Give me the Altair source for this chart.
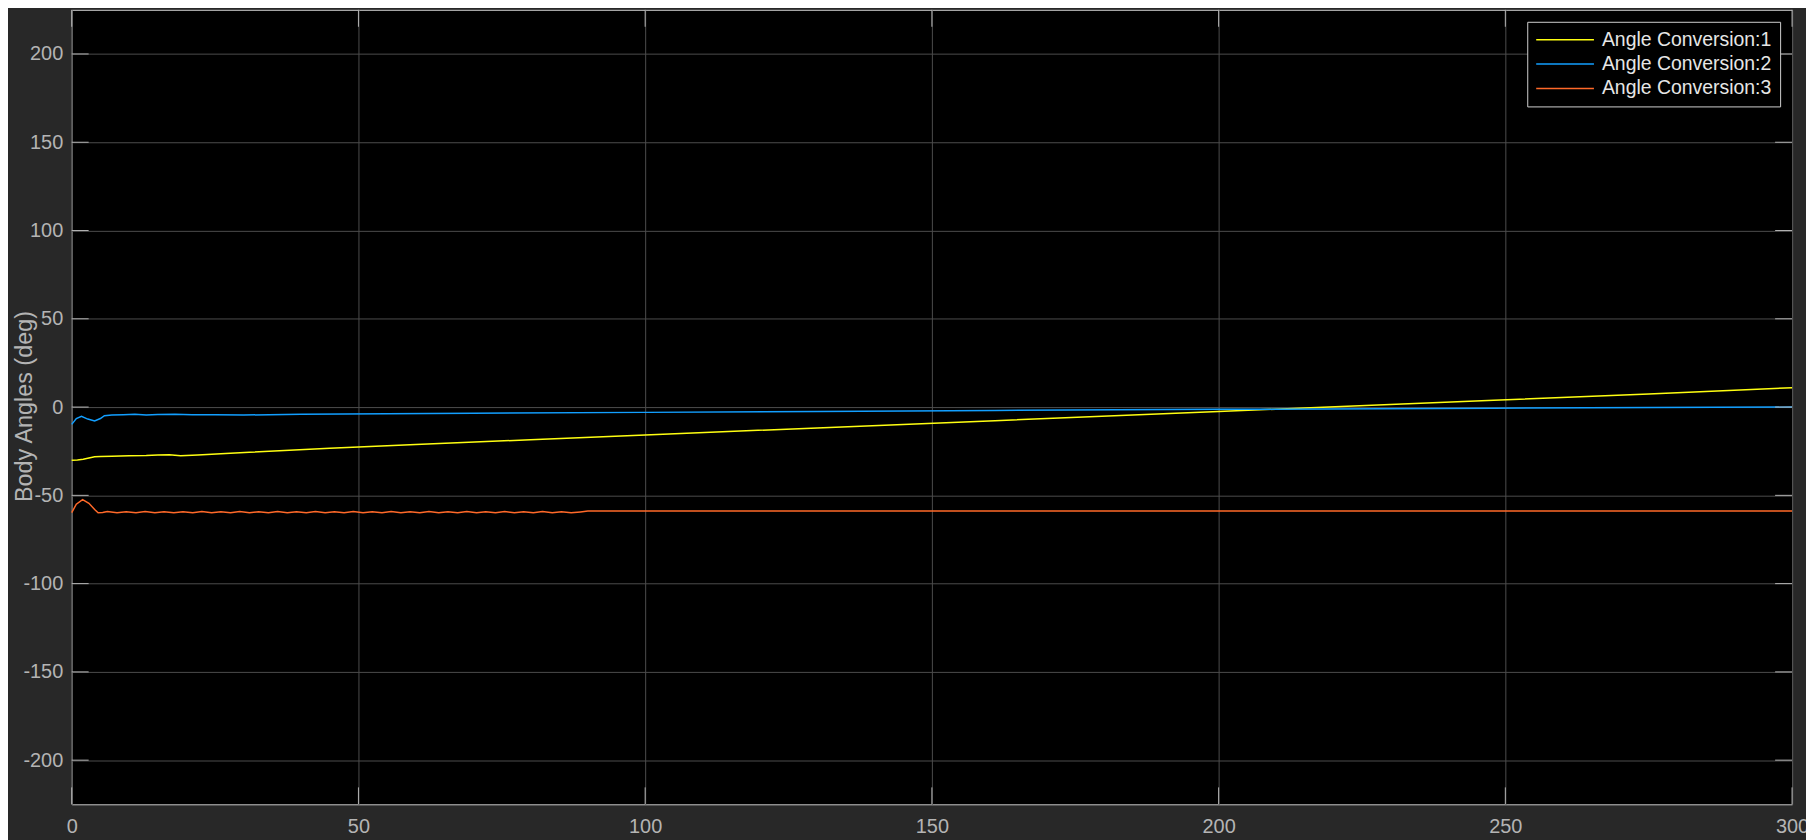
import altair as alt
import pandas as pd

# ---- data ----
SERIES = ["Angle Conversion:1", "Angle Conversion:2", "Angle Conversion:3"]
COLORS = ["#ffff11", "#129fff", "#ff6929"]

T1 = [0, 1, 2, 3, 4, 5, 7, 10, 13, 15, 17, 19, 22, 26, 31, 45, 60, 80, 100, 130, 161, 200, 215, 248, 275, 300]
V1 = [-30.1, -30.0, -29.6, -28.9, -28.2, -28.0, -27.8, -27.6, -27.4, -27.1, -27.0, -27.6, -27.2, -26.4, -25.6,
      -23.3, -21.2, -18.5, -15.8, -11.8, -7.7, -2.5, -0.5, 3.9, 7.4, 11.0]

T2 = [0, 0.8, 1.7, 2.8, 4.0, 5.0, 5.7, 7, 9, 11, 13, 15, 18, 21, 25, 30, 40, 55, 70, 100, 130, 161, 200, 248, 300]
V2 = [-9.8, -6.5, -5.2, -6.8, -7.9, -6.5, -4.9, -4.5, -4.3, -4.1, -4.5, -4.2, -4.0, -4.4, -4.3, -4.5, -4.1,
      -3.8, -3.5, -3.0, -2.5, -1.9, -1.3, -0.6, 0.0]

T3 = [0, 0.8, 1.9, 3.0, 4.0, 4.6, 5.4,
      6.2, 7.9, 9.5, 11.2, 12.8, 14.5, 16.1, 17.8, 19.4, 21.1, 22.7, 24.4, 26.0, 27.7, 29.3, 31.0, 32.6,
      34.3, 35.9, 37.6, 39.2, 40.9, 42.5, 44.2, 45.8, 47.5, 49.1, 50.8, 52.4, 54.1, 55.7, 57.4, 59.0,
      60.7, 62.3, 64.0, 65.6, 67.3, 68.9, 70.6, 72.2, 73.9, 75.5, 77.2, 78.8, 80.5, 82.1, 83.8, 85.4,
      87.1, 88.7, 90, 300]
V3 = [-59.8, -55.0, -52.4, -54.5, -58.0, -59.9, -59.7,
      -59.2, -59.9, -59.3, -59.8, -59.2, -59.9, -59.3, -59.8, -59.3, -59.9, -59.2, -59.8, -59.3, -59.9,
      -59.2, -59.8, -59.3, -59.9, -59.2, -59.8, -59.3, -59.9, -59.2, -59.8, -59.3, -59.9, -59.2, -59.8,
      -59.3, -59.9, -59.2, -59.8, -59.3, -59.9, -59.2, -59.8, -59.3, -59.9, -59.2, -59.8, -59.3, -59.9,
      -59.2, -59.8, -59.3, -59.9, -59.2, -59.8, -59.3, -59.9, -59.4, -58.9, -58.9]

X_TICKS = [0, 50, 100, 150, 200, 250, 300]
Y_TICKS = [-200, -150, -100, -50, 0, 50, 100, 150, 200]

rows = []
for name, ts, vs in zip(SERIES, [T1, T2, T3], [V1, V2, V3]):
    for t, v in zip(ts, vs):
        rows.append({"t": t, "v": v, "series": name})
df = pd.DataFrame(rows)

W, H = 1728, 798
TICK_LEN = 17
TEXT = "#b4b4b4"
FONT = "Liberation Sans"

xscale = alt.Scale(domain=[0, 300], nice=False, zero=False)
yscale = alt.Scale(domain=[-225, 225], nice=False, zero=False)

lines = alt.Chart(df).mark_line(strokeWidth=1.5).encode(
    x=alt.X("t:Q", scale=xscale,
            axis=alt.Axis(values=X_TICKS, title=None, grid=True, labelFlush=False,
                          labelPadding=12, labelExpr="'' + datum.value")),
    y=alt.Y("v:Q", scale=yscale,
            axis=alt.Axis(values=Y_TICKS, title="Body Angles (deg)", grid=True,
                          labelPadding=9, titleX=-40, titleY=398, titleAngle=270,
                          titleBaseline="alphabetic", titleAlign="center",
                          titleFontSize=23.5, titleFontWeight="normal",
                          titleColor=TEXT, titleFont=FONT,
                          labelExpr="'' + datum.value")),
    color=alt.Color("series:N",
                    scale=alt.Scale(domain=SERIES, range=COLORS),
                    legend=alt.Legend(title=None, orient="none", legendX=1462, legendY=12,
                                      fillColor="#000000", strokeColor="#d0d0d0",
                                      padding=8, symbolType="stroke", symbolSize=3364,
                                      symbolStrokeWidth=1.5, clipHeight=20, rowPadding=4.5,
                                      labelFontSize=19.5, labelColor="#e6e6e6", labelFont=FONT,
                                      labelOffset=7, labelLimit=400, cornerRadius=0)),
    order=alt.Order("t:Q"),
)

ydf = pd.DataFrame({"v": Y_TICKS})
xdf = pd.DataFrame({"t": X_TICKS})

tick_style = dict(color="#b4b4b4", strokeWidth=1)
left_ticks = alt.Chart(ydf).mark_rule(**tick_style).encode(
    y=alt.Y("v:Q", scale=yscale), x=alt.value(0), x2=alt.value(TICK_LEN))
right_ticks = alt.Chart(ydf).mark_rule(**tick_style).encode(
    y=alt.Y("v:Q", scale=yscale), x=alt.value(W - TICK_LEN), x2=alt.value(W))
bottom_ticks = alt.Chart(xdf).mark_rule(**tick_style).encode(
    x=alt.X("t:Q", scale=xscale), y=alt.value(H - TICK_LEN), y2=alt.value(H))
top_ticks = alt.Chart(xdf).mark_rule(**tick_style).encode(
    x=alt.X("t:Q", scale=xscale), y=alt.value(0), y2=alt.value(TICK_LEN))

chart = alt.layer(lines, left_ticks, right_ticks, bottom_ticks, top_ticks).properties(
    width=W, height=H,
    autosize=alt.AutoSizeParams(type="none"),
    padding={"left": 64, "top": 0, "right": 14, "bottom": 34},
    background="#282828",
).configure_view(
    fill="#000000", stroke="#c8c8c8", strokeWidth=1
).configure_axis(
    domain=False, ticks=False, tickSize=0,
    gridColor="#4d4d4d", gridWidth=1, gridOpacity=1,
    labelFont=FONT, labelFontSize=20, labelColor=TEXT,
)

chart.save("out.html", embed_options={"renderer": "svg", "actions": False})
